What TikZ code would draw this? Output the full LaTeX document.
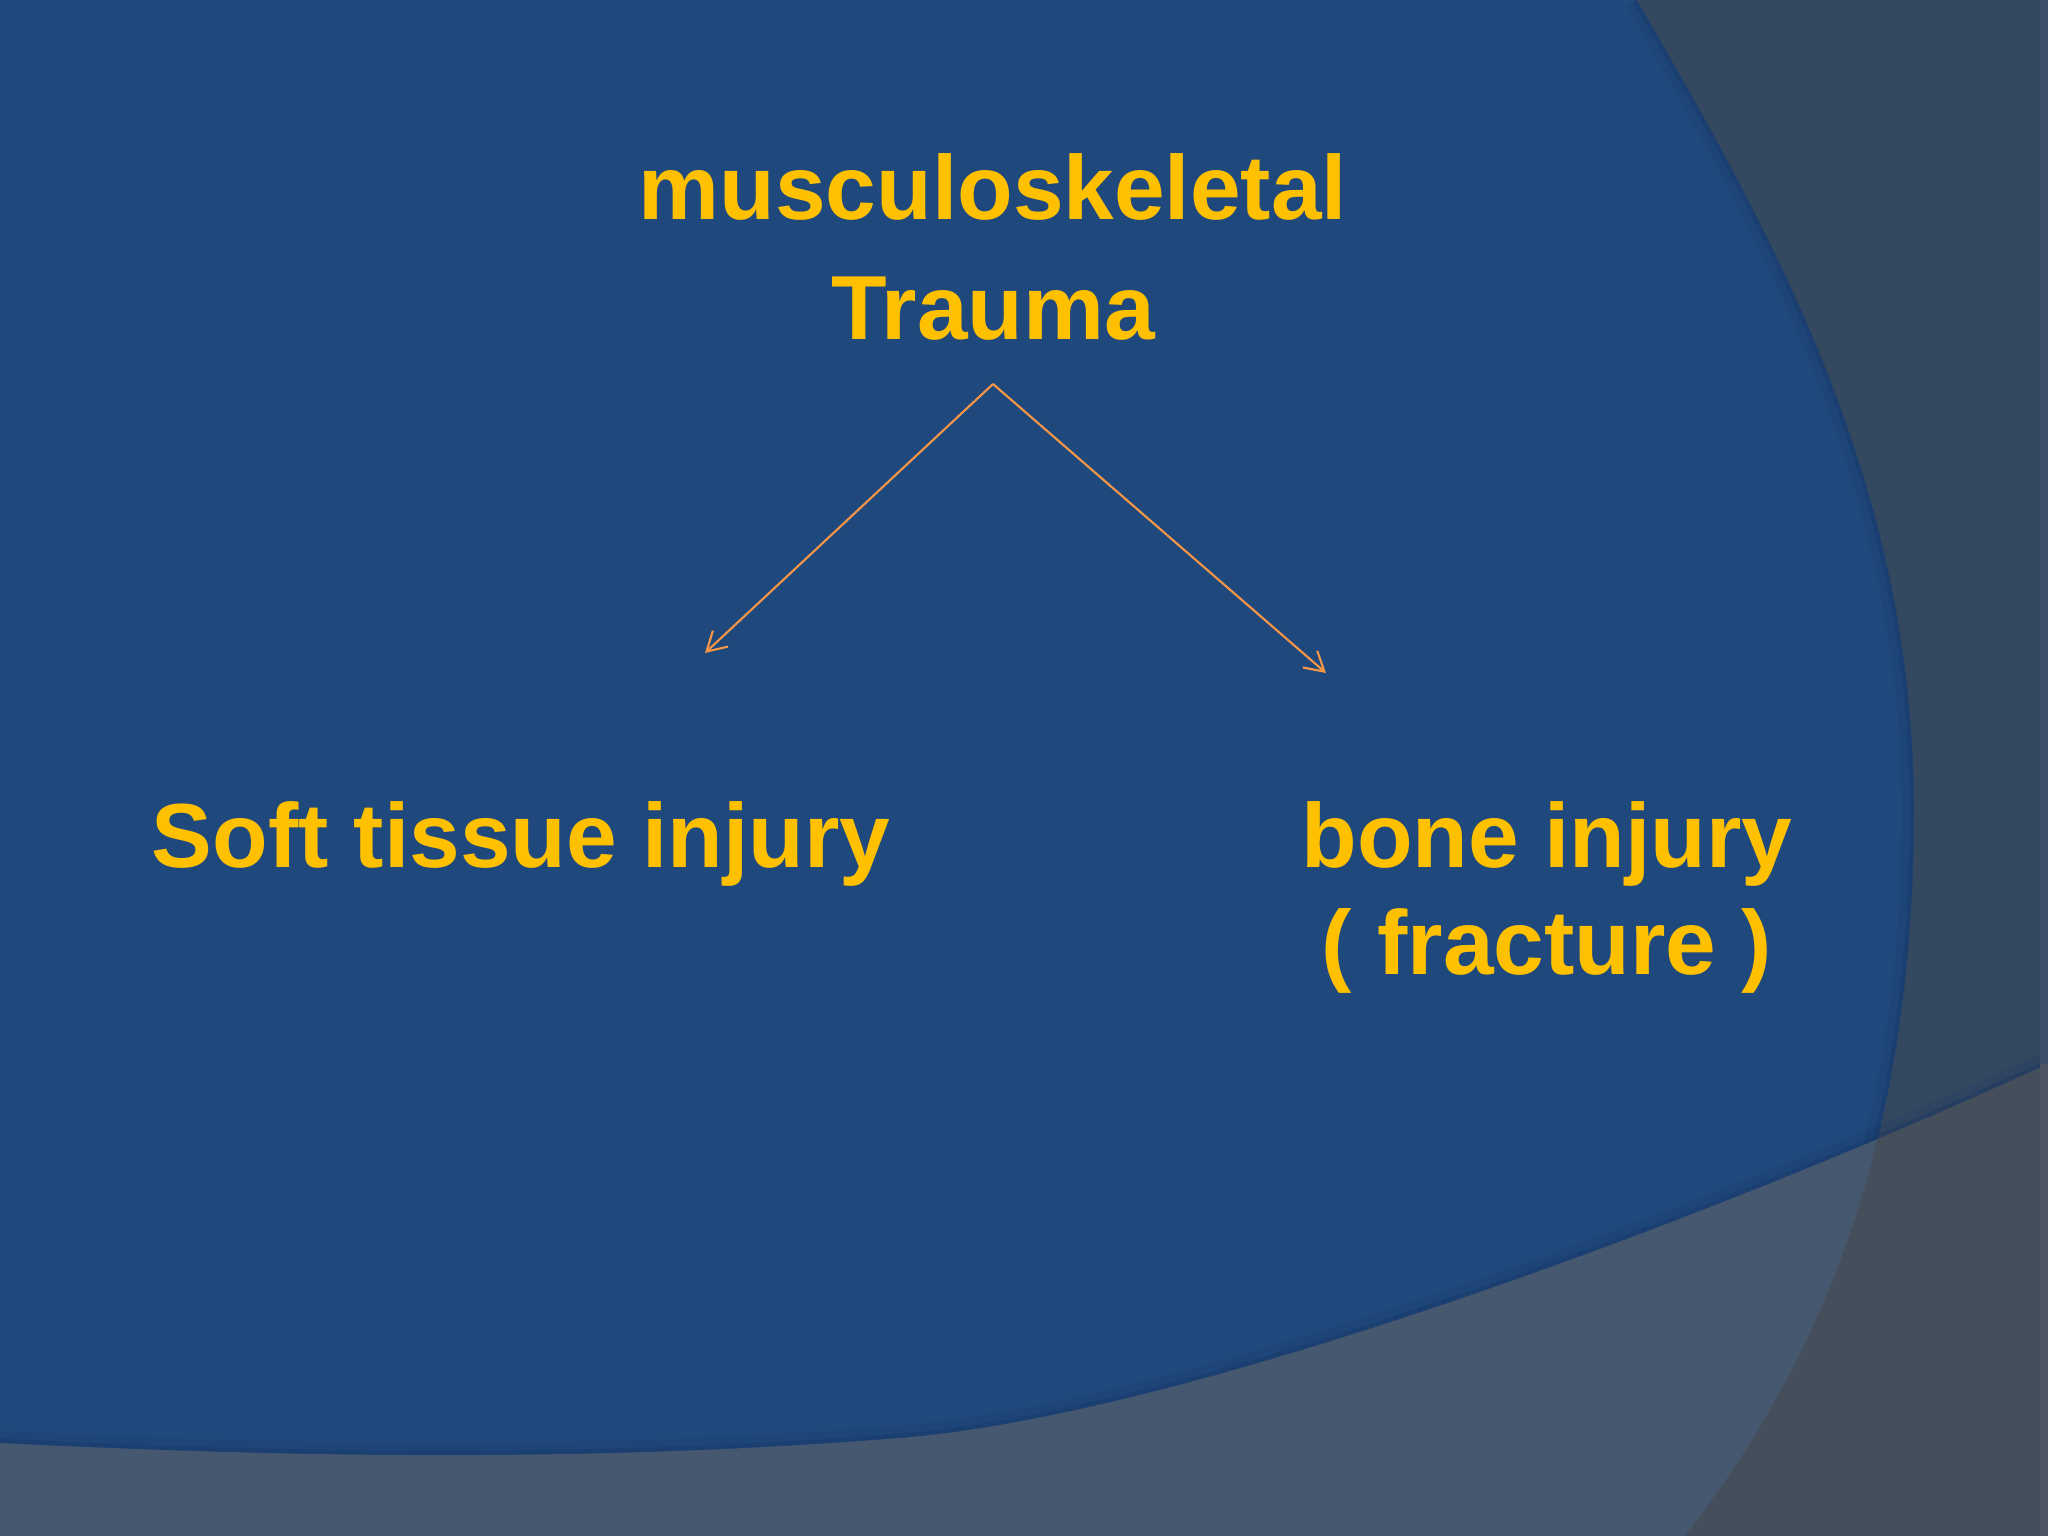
\documentclass[tikz,border=0pt]{standalone}
\usepackage{fontspec}
\setmainfont{Liberation Sans}
\usetikzlibrary{arrows.meta}
\definecolor{cSlide}  {RGB}{31,  73, 125}
\definecolor{cShade}  {RGB}{20,  52,  96}
\definecolor{cSide}   {RGB}{52,  72,  96}
\definecolor{cBand}   {RGB}{69,  88, 112}
\definecolor{cCorner} {RGB}{69,  78,  91}
\definecolor{cEdgeHi} {RGB}{60,  78, 108}
\definecolor{cEdgeLo} {RGB}{78,  86, 100}
\definecolor{cText}   {RGB}{255, 192,   0}
\definecolor{cArrow}  {RGB}{247, 150,  70}
% curved edges of the background shapes
\newcommand\sideEdge{(16.37,0) .. controls (17.7,-2.3) and (19.14,-4.8) .. (19.14,-8.1)
  .. controls (19.14,-11.0) and (18.45,-13.3) .. (16.85,-15.36)}
\newcommand\bandEdge{(0,-14.43) .. controls (3,-14.58) and (6,-14.62) .. (9,-14.38)
  .. controls (12,-14.14) and (17.5,-12.02) .. (20.48,-10.64)}
\newcommand\sidePath{\sideEdge -- (20.48,-15.36) -- (20.48,0) -- cycle}
\newcommand\bandPath{\bandEdge -- (20.48,-15.36) -- (0,-15.36) -- cycle}
\tikzset{
  T/.style      = {text=cText, inner sep=0pt, anchor=base,
                   font=\bfseries\fontsize{25.9}{34.4}\selectfont},
  titleT/.style = {T, align=center},
  boneT/.style  = {T, align=center, font=\bfseries\fontsize{25.9}{30.7}\selectfont},
  softShade/.style = {cShade, line width=7pt, opacity=0.18},
  hardShade/.style = {cShade, line width=2.5pt, opacity=0.3},
  branch/.style = {-{Straight Barb[length=1.9mm,width=2.2mm]}, cArrow, line width=0.6pt},
}

\begin{document}
\begin{tikzpicture}
\useasboundingbox (0,0) rectangle (20.48,-15.36);

%% background
\fill[cSlide] (0,0) rectangle (20.48,-15.36);
\draw[softShade] \sideEdge;
\draw[hardShade] \sideEdge;
\fill[cSide] \sidePath;
\draw[softShade] \bandEdge;
\draw[hardShade] \bandEdge;
\fill[cBand] \bandPath;
\begin{scope}
  \clip \sidePath;
  \fill[cCorner] \bandPath;
\end{scope}
\fill[cEdgeHi] (20.40,0) rectangle (20.48,-10.64);
\fill[cEdgeLo] (20.40,-10.64) rectangle (20.48,-15.36);

%% texts (base = last line)
\node[titleT] (trauma) at (9.93,-3.40) {musculoskeletal\\Trauma};
\node[T]      (soft)   at (5.21,-8.68) {Soft tissue injury};
\node[boneT]  (bone)   at (15.47,-9.75) {bone injury\\( fracture )};

%% branches
\coordinate (fork)    at (9.93,-3.84);
\coordinate (softEnd) at (7.05,-6.53);
\coordinate (boneEnd) at (13.26,-6.73);
\draw[branch] (fork) -- (softEnd);
\draw[branch] (fork) -- (boneEnd);

\end{tikzpicture}
\end{document}
